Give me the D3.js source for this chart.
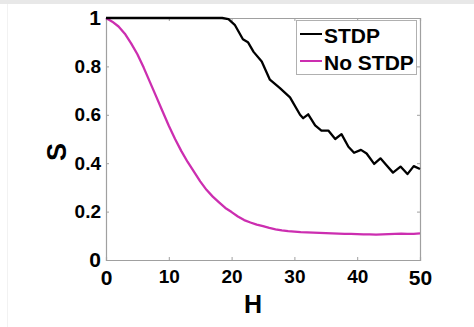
<!DOCTYPE html>
<html>
<head>
<meta charset="utf-8">
<script src="https://cdn.jsdelivr.net/npm/d3@7"></script>
<style>
  html, body { margin: 0; padding: 0; background: #fff; }
  svg { display: block; }
  text { font-family: "Liberation Sans", Arial, Helvetica, sans-serif; font-weight: bold; fill: #000; }
</style>
</head>
<body>
<svg id="chart" width="474" height="327"></svg>
<script>
// ---- data ----
const hStdp = [0, 18.5, 19.5, 20.5, 21.8, 22.6, 23.5, 24.8, 26.1, 27.7, 29.3, 30.9, 31.4, 32.2, 33.3, 34.3, 35.4, 36.5, 37.5, 38.6, 39.5, 40.6, 41.5, 42.7, 43.7, 44.7, 45.7, 46.9, 48, 49, 50];
const sStdp = [1, 1, 0.995, 0.972, 0.912, 0.9, 0.86, 0.82, 0.745, 0.71, 0.672, 0.6, 0.586, 0.602, 0.556, 0.535, 0.535, 0.50, 0.52, 0.468, 0.443, 0.455, 0.44, 0.397, 0.42, 0.39, 0.361, 0.386, 0.355, 0.388, 0.376];

const hNo = [0,1,2,3,4,5,6,7,8,9,10,11,12,13,14,15,16,17,18,19,20,21,22,23,24,25,26,27,28,29,30,31,32,33,34,35,36,37,38,39,40,41,42,43,44,45,46,47,48,49,50];
const sNo = [1.0,0.985,0.965,0.935,0.895,0.85,0.795,0.735,0.675,0.615,0.555,0.5,0.45,0.405,0.365,0.325,0.29,0.262,0.238,0.215,0.198,0.18,0.165,0.155,0.146,0.14,0.133,0.127,0.122,0.119,0.117,0.115,0.114,0.113,0.112,0.111,0.11,0.109,0.108,0.108,0.107,0.106,0.106,0.105,0.106,0.107,0.108,0.109,0.108,0.108,0.11];

const xTicks = [0, 10, 20, 30, 40, 50];
const yTicks = [0, 0.2, 0.4, 0.6, 0.8, 1];
const yTickLabels = ["0", "0.2", "0.4", "0.6", "0.8", "1"];
const seriesNames = ["STDP", "No STDP"];
const seriesColors = ["#000000", "#cc2eb0"];

// ---- layout ----
const svg = d3.select("#chart");
const L = 106, R = 420, T = 18, B = 260;
const x = d3.scaleLinear().domain([0, 50]).range([L, R]);
const y = d3.scaleLinear().domain([0, 1]).range([B, T]);
const axisColor = "#a0a0a0";

// frame decorations of the photographed figure
svg.append("rect").attr("x", 0).attr("y", 0).attr("width", 474).attr("height", 4).attr("fill", "#e8e8e8");
svg.append("line").attr("x1", 7.5).attr("x2", 7.5).attr("y1", 4).attr("y2", 327).attr("stroke", "#f2f2f2");

// axes (ticks inward, box all round)
const gx = svg.append("g").attr("transform", `translate(0,${B})`)
  .call(d3.axisBottom(x).tickValues(xTicks).tickSize(-3).tickPadding(10).tickFormat(d3.format("d")));
const gxTop = svg.append("g").attr("transform", `translate(0,${T})`)
  .call(d3.axisTop(x).tickValues(xTicks).tickSize(-3).tickFormat(""));
const gy = svg.append("g").attr("transform", `translate(${L},0)`)
  .call(d3.axisLeft(y).tickValues(yTicks).tickSize(-3).tickPadding(5).tickFormat((d, i) => yTickLabels[i]));
const gyR = svg.append("g").attr("transform", `translate(${R},0)`)
  .call(d3.axisRight(y).tickValues(yTicks).tickSize(-3).tickFormat(""));

[gx, gxTop, gy, gyR].forEach(g => {
  g.select(".domain").attr("stroke", axisColor).attr("stroke-width", 1.2);
  g.selectAll(".tick line").attr("stroke", axisColor);
});
gx.selectAll(".tick text").attr("font-size", 19).attr("fill", "#000")
  .attr("font-family", "'Liberation Sans', Arial, sans-serif").attr("font-weight", "bold")
  .attr("dy", "0.71em");
gx.selectAll(".tick text").filter(d => d === 50 || d === 0).attr("font-size", 21);
gy.selectAll(".tick text").attr("font-size", 19).attr("fill", "#000")
  .attr("font-family", "'Liberation Sans', Arial, sans-serif").attr("font-weight", "bold");
gy.selectAll(".tick text").filter(d => d === 0 || d === 1).attr("font-size", 21);

// lines
const line = d3.line().x(d => x(d[0])).y(d => y(d[1]));
const stdp = hStdp.map((h, i) => [h, sStdp[i]]);
const noStdp = hNo.map((h, i) => [h, sNo[i]]);
svg.append("path").datum(noStdp).attr("d", line).attr("fill", "none")
  .attr("stroke", seriesColors[1]).attr("stroke-width", 2.3).attr("stroke-linejoin", "round");
svg.append("path").datum(stdp).attr("d", line).attr("fill", "none")
  .attr("stroke", seriesColors[0]).attr("stroke-width", 2.3).attr("stroke-linejoin", "round");

// axis titles
svg.append("text").attr("x", 253).attr("y", 313).attr("text-anchor", "middle")
  .attr("font-size", 25).text("H");
svg.append("text").attr("transform", "translate(66,152) rotate(-90)").attr("text-anchor", "middle")
  .attr("font-size", 27).text("S");

// legend
const lg = svg.append("g");
lg.append("rect").attr("x", 296.5).attr("y", 20.5).attr("width", 120).attr("height", 54)
  .attr("fill", "#fff").attr("stroke", "#b0b0b0").attr("stroke-width", 1);
seriesNames.forEach((name, i) => {
  const yy = 34 + i * 27;
  lg.append("line").attr("x1", 300).attr("x2", 322).attr("y1", yy).attr("y2", yy)
    .attr("stroke", seriesColors[i]).attr("stroke-width", 2);
  lg.append("text").attr("x", 324).attr("y", yy + 8.5).attr("font-size", 21).text(name);
});
</script>
</body>
</html>
